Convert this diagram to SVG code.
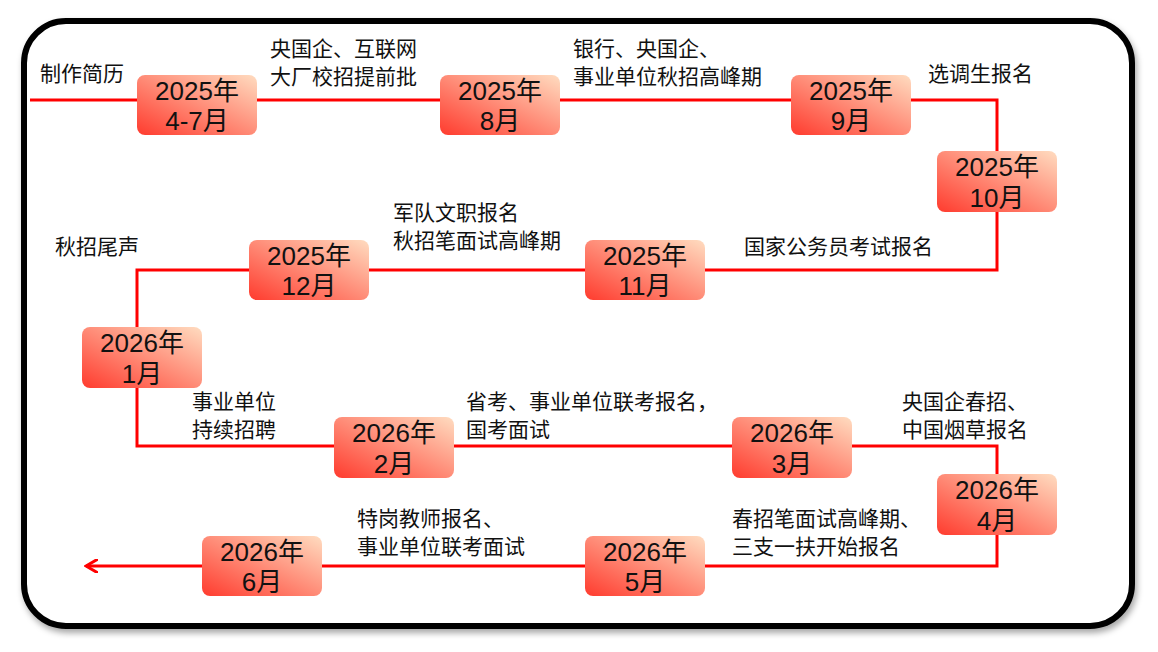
<svg xmlns="http://www.w3.org/2000/svg" width="1158" height="652" viewBox="0 0 1158 652">
<defs>
<linearGradient id="g" x1="0" y1="1" x2="1" y2="0"><stop offset="0" stop-color="#ff3b2e"/><stop offset="1" stop-color="#ffdcc0"/></linearGradient>
<marker id="a" markerWidth="14" markerHeight="14" refX="12" refY="7" orient="auto" markerUnits="userSpaceOnUse"><path d="M0,0 L12,7 L0,14" fill="none" stroke="#f00" stroke-width="3"/></marker>
<filter id="s" x="-5%" y="-5%" width="110%" height="115%"><feDropShadow dx="2" dy="4" stdDeviation="3" flood-opacity="0.35"/></filter>
</defs>
<style>
.n rect{fill:url(#g)}
.n text{font-family:"Liberation Sans","Noto Sans CJK SC",sans-serif;font-size:26px;text-anchor:middle;fill:#111}
.l{font-family:"Noto Sans CJK SC",sans-serif;font-size:21px;fill:#111}
.c{fill:none;stroke:#f00;stroke-width:3}
</style>
<rect width="1158" height="652" fill="#fff"/>
<rect x="24" y="21" width="1108" height="605" rx="42" fill="#fff" stroke="#000" stroke-width="6" filter="url(#s)"/>
<g id="connectors">
<path class="c" d="M30,100 H997 V270 H137 V446 H997 V566 H86" marker-end="url(#a)"/>
</g>
<g id="n1" class="n"><rect x="137" y="75" width="120" height="60" rx="8"/><text x="197" y="100">2025年</text><text x="197" y="130">4-7月</text></g>
<g id="n2" class="n"><rect x="440" y="75" width="120" height="60" rx="8"/><text x="500" y="100">2025年</text><text x="500" y="130">8月</text></g>
<g id="n3" class="n"><rect x="791" y="75" width="120" height="60" rx="8"/><text x="851" y="100">2025年</text><text x="851" y="130">9月</text></g>
<g id="n4" class="n"><rect x="937" y="151" width="120" height="61" rx="8"/><text x="997" y="176">2025年</text><text x="997" y="207">10月</text></g>
<g id="n5" class="n"><rect x="585" y="240" width="120" height="60" rx="8"/><text x="645" y="265">2025年</text><text x="645" y="295">11月</text></g>
<g id="n6" class="n"><rect x="249" y="240" width="120" height="60" rx="8"/><text x="309" y="265">2025年</text><text x="309" y="295">12月</text></g>
<g id="n7" class="n"><rect x="82" y="327" width="120" height="61" rx="8"/><text x="142" y="352">2026年</text><text x="142" y="383">1月</text></g>
<g id="n8" class="n"><rect x="334" y="417" width="120" height="61" rx="8"/><text x="394" y="442">2026年</text><text x="394" y="473">2月</text></g>
<g id="n9" class="n"><rect x="732" y="417" width="120" height="61" rx="8"/><text x="792" y="442">2026年</text><text x="792" y="473">3月</text></g>
<g id="n10" class="n"><rect x="937" y="474" width="120" height="61" rx="8"/><text x="997" y="499">2026年</text><text x="997" y="530">4月</text></g>
<g id="n11" class="n"><rect x="585" y="536" width="120" height="60" rx="8"/><text x="645" y="561">2026年</text><text x="645" y="591">5月</text></g>
<g id="n12" class="n"><rect x="202" y="536" width="120" height="60" rx="8"/><text x="262" y="561">2026年</text><text x="262" y="591">6月</text></g>
<g id="labels" class="l">
<text x="40" y="81">制作简历</text>
<text x="270" y="56">央国企、互联网</text><text x="270" y="84">大厂校招提前批</text>
<text x="573" y="56">银行、央国企、</text><text x="573" y="84">事业单位秋招高峰期</text>
<text x="928" y="81">选调生报名</text>
<text x="744" y="254">国家公务员考试报名</text>
<text x="393" y="220">军队文职报名</text><text x="393" y="248">秋招笔面试高峰期</text>
<text x="55" y="254">秋招尾声</text>
<text x="192" y="409">事业单位</text><text x="192" y="437">持续招聘</text>
<text x="466" y="409">省考、事业单位联考报名，</text><text x="466" y="437">国考面试</text>
<text x="902" y="409">央国企春招、</text><text x="902" y="437">中国烟草报名</text>
<text x="732" y="526">春招笔面试高峰期、</text><text x="732" y="554">三支一扶开始报名</text>
<text x="357" y="526">特岗教师报名、</text><text x="357" y="554">事业单位联考面试</text>
</g>
</svg>
